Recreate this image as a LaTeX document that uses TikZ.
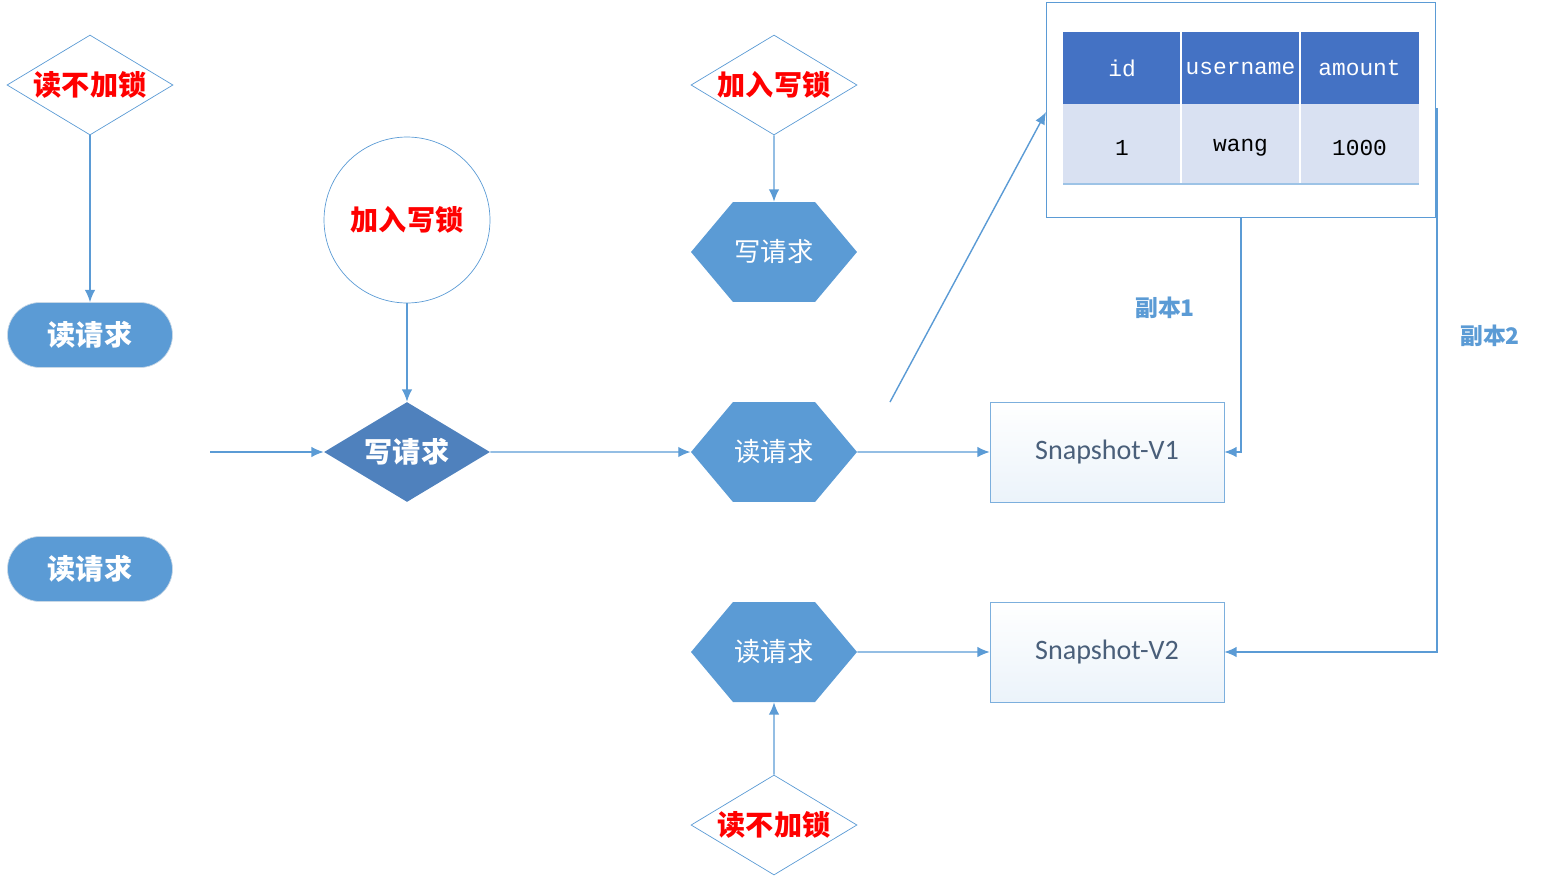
\documentclass[tikz,border=0pt]{standalone}
\usepackage{fontspec}
\setmainfont{Carlito}
\newfontfamily\cjk{Noto Sans CJK SC}
\newfontfamily\tabfont{Liberation Mono}
\usetikzlibrary{shapes.geometric,shapes.symbols,arrows.meta}
\definecolor{lineblue}{HTML}{5B9BD5}
\definecolor{darkblue}{HTML}{4F81BD}
\definecolor{headblue}{HTML}{4472C4}
\definecolor{rowblue}{HTML}{D9E1F2}
\definecolor{snaptext}{HTML}{4A5F7A}
\tikzset{
  link/.style={draw=lineblue, line width=0.8pt, -{Latex[length=7pt,width=6pt]}},
  lock/.style={draw=lineblue, fill=white, diamond, aspect=1.66, inner sep=0pt,
    minimum width=3.32cm, minimum height=2cm, text=red, font=\cjk\bfseries\fontsize{16}{18}\selectfont},
  pill/.style={rectangle, rounded corners=0.65cm, fill=lineblue, draw=lineblue!80!black!30, text=white,
    minimum width=3.3cm, minimum height=1.3cm, font=\cjk\bfseries\fontsize{16}{18}\selectfont},
  hexa/.style={signal, signal to=east and west, signal pointer angle=100, fill=lineblue,
    text=white, minimum width=3.32cm, minimum height=2cm, inner sep=0pt,
    font=\cjk\fontsize{15}{18}\selectfont},
  snap/.style={draw=lineblue!80, top color=white, bottom color=lineblue!12,
    minimum width=4.68cm, minimum height=2cm, text=snaptext, font=\fontsize{16}{18}\selectfont},
  cell/.style={minimum width=2.38cm, inner sep=0pt, font=\tabfont\fontsize{13}{18}\selectfont},
  copylbl/.style={text=lineblue, font=\cjk\bfseries\fontsize{13}{16}\selectfont}
}
\begin{document}
\begin{tikzpicture}[x=0.02cm,y=-0.02cm]
  \useasboundingbox (0,0) rectangle (1541,876);
  % left column
  \node (lockA) at (90,85) [lock] {读不加锁};
  \node (readA) at (90,335) [pill] {读请求};
  \node (readB) at (90,569) [pill] {读请求};
  % write lock
  \node (wlock) at (407,220) [circle, draw=lineblue, minimum size=3.32cm, text=red,
    font=\cjk\bfseries\fontsize{16}{18}\selectfont] {加入写锁};
  \node (write) at (407,452) [diamond, aspect=1.66, inner sep=0pt, minimum width=3.32cm,
    minimum height=2cm, fill=darkblue, text=white, font=\cjk\bfseries\fontsize{16}{18}\selectfont] {写请求};
  \coordinate (start) at (210,452);
  % middle column
  \node (lockB) at (774,85) [lock] {加入写锁};
  \node (writeB) at (774,252) [hexa] {写请求};
  \node (readC) at (774,452) [hexa] {读请求};
  \node (readD) at (774,652) [hexa] {读请求};
  \node (lockC) at (774,825) [lock] {读不加锁};
  % snapshots
  \node (snap1) at (1107,452) [snap] {Snapshot-V1};
  \node (snap2) at (1107,652) [snap] {Snapshot-V2};
  % table
  \node (frame) at (1240.5,109.5) [draw=lineblue, minimum width=7.78cm, minimum height=4.3cm] {};
  \fill[headblue] (1063,32) rectangle (1419,104);
  \fill[rowblue] (1063,104) rectangle (1419,184);
  \draw[white, line width=1pt] (1181,32) -- (1181,184) (1300,32) -- (1300,184);
  \draw[lineblue!60, line width=1.5pt] (1063,184) -- (1419,184);
  \node (h1) at (1122,68) [cell, text=white] {id};
  \node (h2) at (1240.5,68) [cell, text=white] {username};
  \node (h3) at (1359.5,68) [cell, text=white] {amount};
  \node (c1) at (1122,148) [cell] {1};
  \node (c2) at (1240.5,148) [cell] {wang};
  \node (c3) at (1359.5,148) [cell] {1000};
  \coordinate (tabin) at (1046,112);
  \coordinate (readout) at (890,402);
  \coordinate (copyA) at (1241,217);
  \coordinate (copyB) at (1437,108);
  % connectors
  \draw[link] (lockA) -- (readA);
  \draw[link] (wlock) -- (write);
  \draw[link] (start) -- (write);
  \draw[link] (write) -- (readC);
  \draw[link] (lockB) -- (writeB);
  \draw[link] (lockC) -- (readD);
  \draw[link] (readC) -- (snap1);
  \draw[link] (readD) -- (snap2);
  \draw[link] (readout) -- (tabin);
  \draw[link] (copyA) |- (snap1);
  \draw[link] (copyB) |- (snap2);
  \node (lbl1) at (1165,308) [copylbl] {副本1};
  \node (lbl2) at (1490,336) [copylbl] {副本2};
\end{tikzpicture}
\end{document}
